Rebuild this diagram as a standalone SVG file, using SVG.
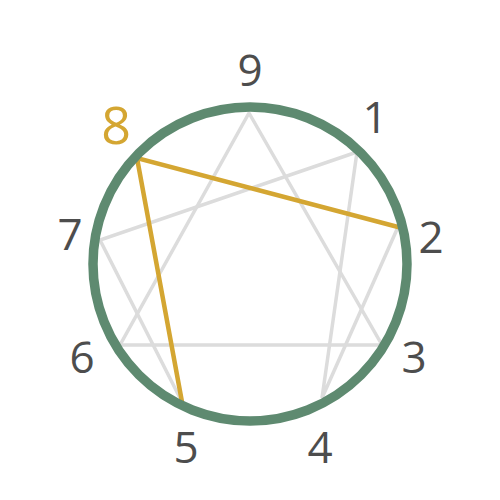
<svg xmlns="http://www.w3.org/2000/svg" width="500" height="500" viewBox="0 0 500 500">
<style>
.lbl{font-family:"Open Sans","Noto Sans",sans-serif;font-size:44px;fill:#4d4d4d;text-anchor:middle}
.hl{fill:#d4a632;font-size:52px}
.g{stroke:#dcdcdc;stroke-width:3.5;fill:none;stroke-linecap:round}
.y{stroke:#d4a632;stroke-width:4.5;fill:none;stroke-linecap:round}
</style>
<rect width="500" height="500" fill="#ffffff"/>
<g id="connectors">
<path class="g" d="M249,113 L382,345 L120,345 Z"/>
<path class="g" d="M357,152 L322,398 L398,227"/>
<path class="g" d="M182,402 L100,240 L357,152"/>
<path class="y" d="M398,227 L137,158 L182,402"/>
</g>
<g id="circle">
<circle cx="250" cy="264" r="157" fill="none" stroke="#5e8a70" stroke-width="9.5"/>
</g>
<g id="n9"><text class="lbl" x="250" y="86">9</text></g>
<g id="n1"><text class="lbl" x="375" y="133">1</text></g>
<g id="n2"><text class="lbl" x="431" y="253">2</text></g>
<g id="n3"><text class="lbl" x="414" y="373">3</text></g>
<g id="n4"><text class="lbl" x="320" y="463">4</text></g>
<g id="n5"><text class="lbl" x="186" y="463">5</text></g>
<g id="n6"><text class="lbl" x="82" y="373">6</text></g>
<g id="n7"><text class="lbl" x="70" y="250">7</text></g>
<g id="n8"><text class="lbl hl" x="116" y="144">8</text></g>
</svg>
